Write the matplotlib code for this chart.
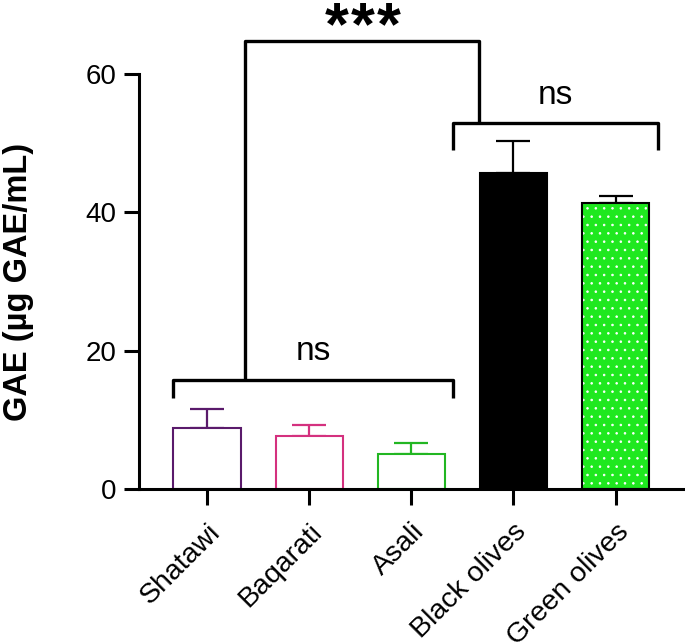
import numpy as np
import matplotlib
matplotlib.use("Agg")
import matplotlib.pyplot as plt

# === Data ===
categories = ["Shatawi", "Baqarati", "Asali", "Black olives", "Green olives"]
means = [8.8, 7.6, 5.0, 45.7, 41.3]
sds = [2.7, 1.6, 1.6, 4.6, 1.1]
yticks = [0, 20, 40, 60]

# === Style ===
edge_colors = ["#5a1a6b", "#d4317f", "#22b622", "black", "black"]
face_colors = ["white", "white", "white", "black", "#1fe81f"]
plt.rcParams["font.family"] = ["Liberation Sans", "DejaVu Sans"]
plt.rcParams["hatch.linewidth"] = 0.6

fig = plt.figure(figsize=(6.85, 6.42), dpi=100)
ax = fig.add_axes([139 / 685, 153 / 642, 546 / 685, 415 / 642])

x = np.arange(len(categories))
width = 0.66

for i in range(len(x)):
    # error bar (upper only) behind the bar
    ax.errorbar(x[i], means[i], yerr=[[0], [sds[i]]], fmt="none",
                ecolor=edge_colors[i], elinewidth=1.6, capsize=12,
                capthick=1.6, zorder=1)
    if i == 4:
        # green fill with white dots, then black outline on top
        ax.bar(x[i], means[i], width, color=face_colors[i], edgecolor="white",
               hatch="..", linewidth=0, zorder=2)
        ax.bar(x[i], means[i], width, fill=False, edgecolor=edge_colors[i],
               linewidth=1.5, zorder=3)
    else:
        ax.bar(x[i], means[i], width, color=face_colors[i],
               edgecolor=edge_colors[i], linewidth=1.5, zorder=2)

# === Axes ===
ax.set_xlim(-0.667, 4.68)
ax.set_ylim(0, 60)
ax.set_yticks(yticks)
ax.set_xticks(x)
ax.set_xticklabels(categories, rotation=45, ha="right", va="top",
                   rotation_mode="anchor", fontsize=20.5)
ax.tick_params(axis="y", labelsize=20, length=11, width=2.2, pad=5)
ax.tick_params(axis="x", length=11.5, width=2.2, pad=10)
for s in ["top", "right"]:
    ax.spines[s].set_visible(False)
for s in ["left", "bottom"]:
    ax.spines[s].set_linewidth(2.2)
ax.spines["bottom"].set_zorder(5)

ax.set_ylabel("GAE (µg GAE/mL)", fontsize=23.5, fontweight="bold")
ax.yaxis.set_label_coords(-0.192, 0.5)

# === Significance brackets ===
lw = 2.4
ax.plot([-0.333, -0.333, 2.41, 2.41], [13.2, 15.8, 15.8, 13.2],
        color="black", lw=lw, clip_on=False, solid_capstyle="butt")
ax.text(1.04, 17.6, "ns", ha="center", va="bottom", fontsize=24)

ax.plot([2.41, 2.41, 4.417, 4.417], [49.0, 52.9, 52.9, 49.0],
        color="black", lw=lw, clip_on=False, solid_capstyle="butt")
ax.text(3.41, 54.7, "ns", ha="center", va="bottom", fontsize=24)

ax.plot([0.37, 0.37, 2.66, 2.66], [15.8, 64.8, 64.8, 52.9],
        color="black", lw=lw, clip_on=False, solid_capstyle="butt")
for dx in [-0.255, 0, 0.255]:
    ax.text(1.52 + dx, 66.6, "*", ha="center", va="center",
            fontsize=44, fontweight="bold")

fig.savefig("out.png", dpi=100)
